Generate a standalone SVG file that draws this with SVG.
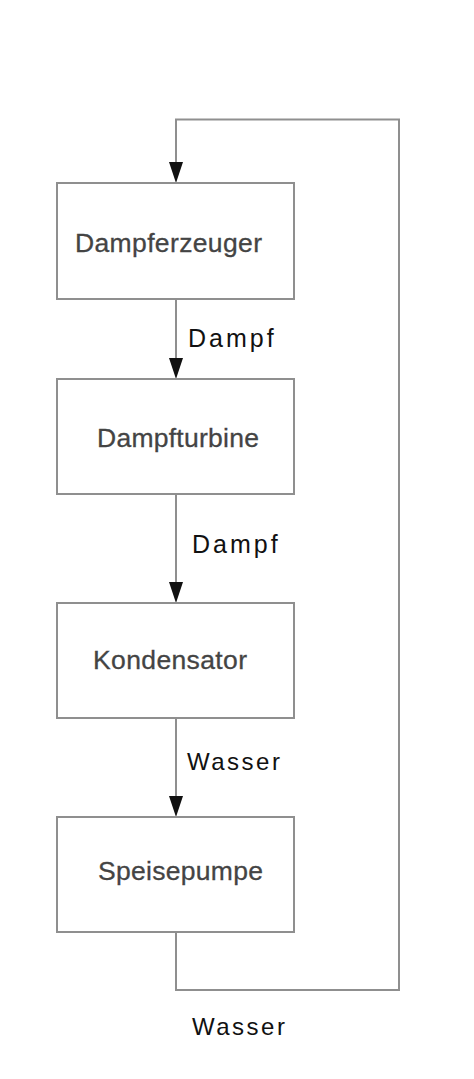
<svg xmlns="http://www.w3.org/2000/svg" width="474" height="1079" viewBox="0 0 474 1079">
<style>
.box{fill:#fff;stroke:#8f8f8f;stroke-width:2}
.nt{font-family:"Liberation Sans",Arial,sans-serif;font-size:26.5px;fill:#444;stroke:#444;stroke-width:0.3px}
.lb{font-family:"Liberation Sans",Arial,sans-serif;font-size:24px;fill:#111;letter-spacing:2.5px}
.lbd{font-size:25px;letter-spacing:3px}
.ln{fill:none;stroke:#8f8f8f;stroke-width:2}
.ah{fill:#111}
</style>
<rect width="474" height="1079" fill="#fff"/>
<g id="connectors">
<path class="ln" d="M176,932 V990 H399 V119.5 H176 V162" />
<path class="ah" d="M169,162 L183,162 L176,183 Z"/>
<line class="ln" x1="176" y1="299" x2="176" y2="358"/>
<path class="ah" d="M169,358 L183,358 L176,379 Z"/>
<line class="ln" x1="176" y1="494" x2="176" y2="582"/>
<path class="ah" d="M169,582 L183,582 L176,603 Z"/>
<line class="ln" x1="176" y1="718" x2="176" y2="796"/>
<path class="ah" d="M169,796 L183,796 L176,817 Z"/>
<text class="lb lbd" x="188" y="347">Dampf</text>
<text class="lb lbd" x="192" y="553">Dampf</text>
<text class="lb" x="187" y="770">Wasser</text>
<text class="lb" x="192" y="1035">Wasser</text>
</g>
<g id="dampferzeuger">
<rect class="box" x="57" y="183" width="237" height="116"/>
<text class="nt" x="75" y="252" textLength="187">Dampferzeuger</text>
</g>
<g id="dampfturbine">
<rect class="box" x="57" y="379" width="237" height="115"/>
<text class="nt" x="97" y="447" textLength="162">Dampfturbine</text>
</g>
<g id="kondensator">
<rect class="box" x="57" y="603" width="237" height="115"/>
<text class="nt" x="93" y="669" textLength="154">Kondensator</text>
</g>
<g id="speisepumpe">
<rect class="box" x="57" y="817" width="237" height="115"/>
<text class="nt" x="98" y="880" textLength="165">Speisepumpe</text>
</g>
</svg>
